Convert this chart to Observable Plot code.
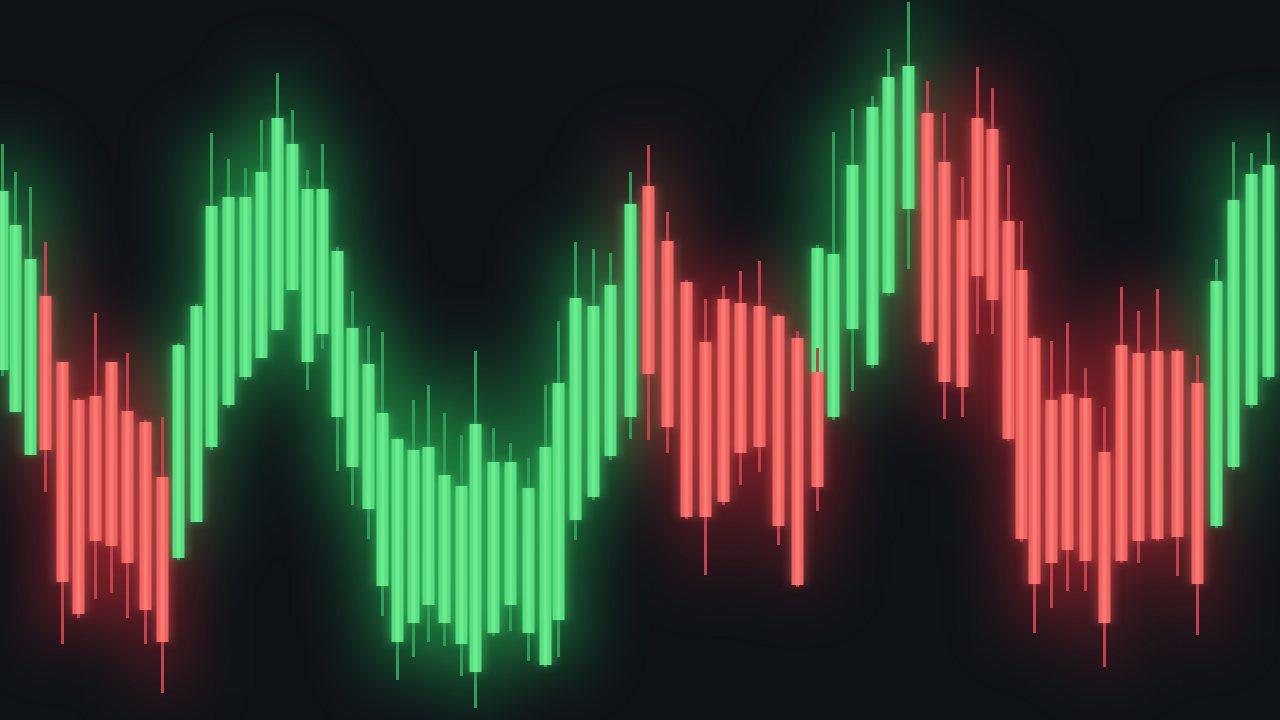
<!DOCTYPE html>
<html>
<head>
<meta charset="utf-8">
<script src="https://cdn.jsdelivr.net/npm/d3@7"></script>
<script src="https://cdn.jsdelivr.net/npm/@observablehq/plot@0.6"></script>
<style>
  html, body { margin: 0; padding: 0; background: #0f1318; overflow: hidden; }
  #wrap { position: relative; width: 1280px; height: 720px; }
  #glow, #halo, #chart { position: absolute; left: 0; top: 0; }
  #glow svg { display: block; filter: blur(30px); }
  #halo svg { display: block; filter: blur(5px); }
  #chart svg { display: block; }
</style>
</head>
<body>
<div id="wrap"><div id="glow"></div><div id="halo"></div><div id="chart"></div></div>
<script>
// Session time of each candle (arbitrary time units)
const time = [2,15,30,45,62,78,95,111,127,145,162,178,196,211,228,245,261,277,292,307,
  322,337,352,368,382,397,413,428,444,461,475,493,510,528,545,558,575,593,610,630,
  648,667,686,705,723,740,759,778,797,817,817,833,852,872,888,908,927,944,962,977,
  992,1008,1021,1034,1051,1067,1085,1104,1121,1138,1157,1177,1197,1216,1233,1251,1268];
// Prices (points)
const open = [350,308,265,424,358,320,324,358,309,298,243,162,198,273,315,343,362,390,430,358,
  386,303,253,211,134,78,97,115,97,76,48,87,115,87,55,100,200,223,264,303,
  534,479,438,378,421,417,414,404,382,348,348,303,391,355,427,511,607,558,500,602,
  591,499,450,382,320,326,322,268,375,367,369,369,337,194,253,315,343];
const close = [529,495,461,270,138,106,179,174,157,110,78,375,414,514,523,523,548,602,576,531,
  531,469,392,356,307,281,270,273,245,234,296,258,258,232,273,337,422,414,435,516,
  346,293,203,203,218,267,273,194,135,472,233,466,555,613,643,654,378,338,333,444,
  420,281,181,136,157,170,159,97,159,179,181,183,136,439,520,546,555];
const high = [576,548,533,478,358,322,407,358,367,300,303,377,416,587,561,552,600,647,610,550,
  576,473,429,394,388,283,320,335,307,285,369,292,277,262,335,399,478,471,467,548,
  575,508,440,421,434,449,459,406,389,475,372,588,611,624,671,718,639,607,543,653,
  632,555,499,384,379,397,352,313,433,409,431,371,365,461,578,567,587];
const low = [344,308,265,228,76,102,121,127,102,76,27,160,198,270,312,340,362,390,430,330,
  371,249,215,181,104,40,63,78,74,44,12,84,89,59,53,63,180,220,260,281,
  280,267,201,145,215,235,248,175,133,372,209,300,329,352,424,451,375,301,303,386,
  386,279,178,87,112,129,129,53,157,157,179,144,85,192,250,312,340];

const candles = time.map((t, i) => ({t, open: open[i], close: close[i], high: high[i], low: low[i]}));
const up = candles.filter(d => d.close >= d.open);
const down = candles.filter(d => d.close < d.open);

const G = {glow: "#22a64e", body: "#54e27f", light: "#98f8b2", wick: "#2e9d55"};
const R = {glow: "#ad2430", body: "#f36460", light: "#ff9f94", wick: "#c2424c"};

const base = {
  width: 1280,
  height: 720,
  margin: 0,
  x: {domain: [0, 1280], axis: null},
  y: {domain: [0, 720], axis: null}
};

// Wide background glow (blurred via CSS)
const glow = Plot.plot({
  ...base,
  style: {background: "transparent", overflow: "visible"},
  marks: [
    Plot.ruleX(up, {x: "t", y1: "low", y2: "high", stroke: G.glow, strokeWidth: 56, strokeOpacity: 0.32}),
    Plot.ruleX(down, {x: "t", y1: "low", y2: "high", stroke: R.glow, strokeWidth: 56, strokeOpacity: 0.32})
  ]
});

// Close halo around each body
const halo = Plot.plot({
  ...base,
  style: {background: "transparent", overflow: "visible"},
  marks: [
    Plot.ruleX(up, {x: "t", y1: "open", y2: "close", stroke: G.body, strokeWidth: 18, strokeOpacity: 0.35}),
    Plot.ruleX(down, {x: "t", y1: "open", y2: "close", stroke: R.body, strokeWidth: 18, strokeOpacity: 0.35})
  ]
});

function layers(data, c) {
  return [
    Plot.ruleX(data, {x: "t", y1: "low", y2: "high", stroke: c.wick, strokeWidth: 3}),
    Plot.ruleX(data, {x: "t", y1: "open", y2: "close", stroke: c.body, strokeWidth: 12}),
    Plot.ruleX(data, {x: "t", y1: "open", y2: "close", stroke: c.light, strokeWidth: 4, strokeOpacity: 0.4})
  ];
}

const chart = Plot.plot({
  ...base,
  style: {background: "transparent"},
  marks: [...layers(up, G), ...layers(down, R)]
});

document.getElementById("glow").append(glow);
document.getElementById("halo").append(halo);
document.getElementById("chart").append(chart);
</script>
</body>
</html>
